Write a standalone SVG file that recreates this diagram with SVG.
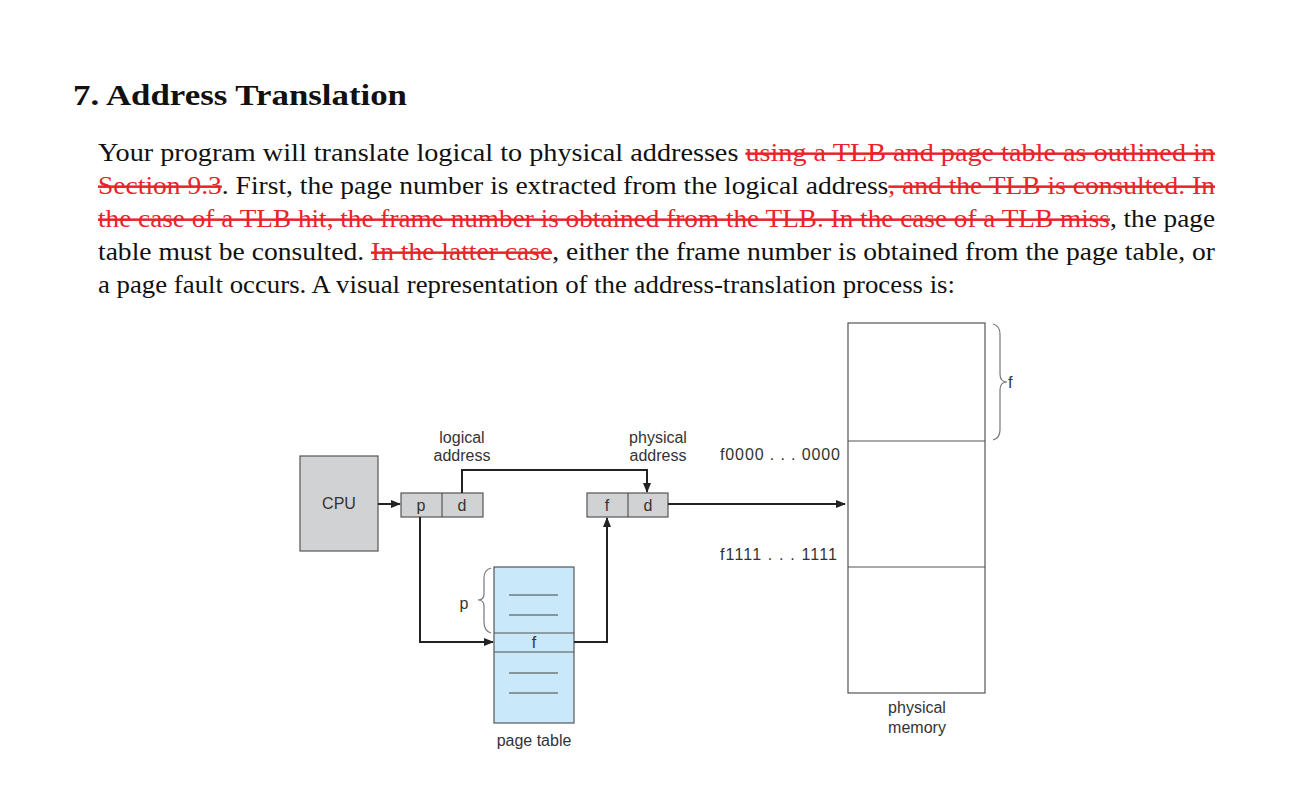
<svg xmlns="http://www.w3.org/2000/svg" width="1293" height="801" viewBox="0 0 1293 801">
<style>
.p{font-family:"Liberation Serif",serif;font-size:25px;fill:#111}
.r{fill:#e8242a;text-decoration:line-through}
.s{font-family:"Liberation Sans",Arial,sans-serif;font-size:16px;fill:#333}
.ln{fill:none;stroke:#222;stroke-width:2}
.bx{stroke:#555;stroke-width:1.2}
</style>
<defs><marker id="a" markerWidth="10" markerHeight="8" refX="9" refY="4" orient="auto" markerUnits="userSpaceOnUse"><path d="M0,0L10,4L0,8z" fill="#222"/></marker></defs>
<rect width="1293" height="801" fill="#fff"/>
<text x="73" y="105" font-family="Liberation Serif,serif" font-size="30" font-weight="bold" fill="#111" textLength="334" lengthAdjust="spacingAndGlyphs">7. Address Translation</text>
<text class="p" x="98" y="161" textLength="1117" lengthAdjust="spacingAndGlyphs">Your program will translate logical to physical addresses <tspan class="r">using a TLB and page table as outlined in</tspan></text>
<text class="p" x="98" y="194" textLength="1117" lengthAdjust="spacingAndGlyphs"><tspan class="r">Section 9.3</tspan>. First, the page number is extracted from the logical address<tspan class="r">, and the TLB is consulted. In</tspan></text>
<text class="p" x="98" y="227" textLength="1117" lengthAdjust="spacingAndGlyphs"><tspan class="r">the case of a TLB hit, the frame number is obtained from the TLB. In the case of a TLB miss</tspan>, the page</text>
<text class="p" x="98" y="260" textLength="1117" lengthAdjust="spacingAndGlyphs">table must be consulted. <tspan class="r">In the latter case</tspan>, either the frame number is obtained from the page table, or</text>
<text class="p" x="98" y="293" textLength="857" lengthAdjust="spacingAndGlyphs">a page fault occurs. A visual representation of the address-translation process is:</text>

<g id="cpu"><rect x="300" y="456" width="78" height="95" fill="#d1d2d4" class="bx"/><text class="s" x="339" y="509" text-anchor="middle">CPU</text></g>
<g id="logical"><rect x="401" y="493" width="82" height="24" fill="#d1d2d4" class="bx"/><line x1="442" y1="493" x2="442" y2="517" class="bx"/>
<text class="s" x="421" y="511" text-anchor="middle">p</text><text class="s" x="462" y="511" text-anchor="middle">d</text>
<text class="s" x="462" y="443" text-anchor="middle">logical</text><text class="s" x="462" y="461" text-anchor="middle">address</text></g>
<g id="physaddr"><rect x="587" y="493" width="81" height="24" fill="#d1d2d4" class="bx"/><line x1="628" y1="493" x2="628" y2="517" class="bx"/>
<text class="s" x="607" y="511" text-anchor="middle">f</text><text class="s" x="648" y="511" text-anchor="middle">d</text>
<text class="s" x="658" y="443" text-anchor="middle">physical</text><text class="s" x="658" y="461" text-anchor="middle">address</text></g>
<g id="pagetable"><rect x="494" y="567" width="80" height="156" fill="#c9e8fa" class="bx"/>
<line x1="494" y1="633" x2="574" y2="633" class="bx"/><line x1="494" y1="652" x2="574" y2="652" class="bx"/>
<g stroke="#444" stroke-width="1"><line x1="509" y1="595" x2="558" y2="595"/><line x1="509" y1="615" x2="558" y2="615"/><line x1="509" y1="673" x2="558" y2="673"/><line x1="509" y1="693" x2="558" y2="693"/></g>
<text class="s" x="534" y="648" text-anchor="middle">f</text>
<path d="M491,568 Q484,570 484,578 L484,594 Q484,600 478,600 Q484,600 484,606 L484,622 Q484,631 491,633" fill="none" stroke="#777" stroke-width="1.2"/>
<text class="s" x="464" y="609" text-anchor="middle">p</text>
<text class="s" x="534" y="746" text-anchor="middle">page table</text></g>
<g id="memory"><rect x="848" y="323" width="137" height="370" fill="#fff" class="bx"/>
<line x1="848" y1="441" x2="985" y2="441" class="bx"/><line x1="848" y1="567" x2="985" y2="567" class="bx"/>
<path d="M993,324 Q1000,326 1000,334 L1000,374 Q1000,382 1007,382 Q1000,382 1000,390 L1000,430 Q1000,438 993,440" fill="none" stroke="#777" stroke-width="1.2"/>
<text class="s" x="1008" y="388" font-size="14">f</text>
<text class="s" x="720" y="460" font-size="15" textLength="120" lengthAdjust="spacing">f0000 . . . 0000</text>
<text class="s" x="720" y="560" font-size="15" textLength="117" lengthAdjust="spacing">f1111 . . . 1111</text>
<text class="s" x="917" y="713" text-anchor="middle">physical</text><text class="s" x="917" y="733" text-anchor="middle">memory</text></g>
<g id="connectors">
<line x1="378" y1="504" x2="400" y2="504" class="ln" marker-end="url(#a)"/>
<polyline points="462,493 462,470 647,470 647,492" class="ln" marker-end="url(#a)"/>
<polyline points="420,517 420,642 493,642" class="ln" marker-end="url(#a)"/>
<polyline points="574,642 607,642 607,518" class="ln" marker-end="url(#a)"/>
<line x1="668" y1="504" x2="845" y2="504" class="ln" marker-end="url(#a)"/>
</g>
</svg>
